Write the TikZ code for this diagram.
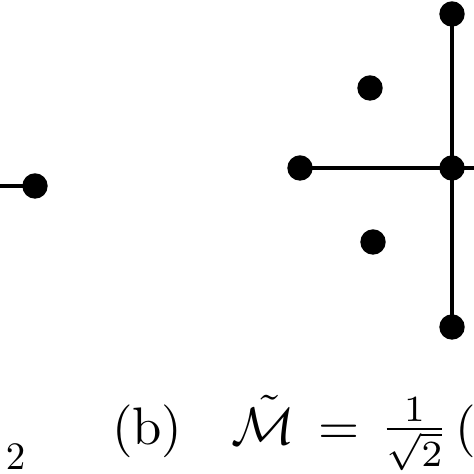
\documentclass[tikz,border=0pt]{standalone}
\usepackage{amsmath}
\tikzset{
  dot/.style={circle, fill=black, inner sep=0pt, minimum size=25.4bp},
  edge/.style={line width=3.5bp, black},
  captext/.style={inner sep=0pt, font=\fontsize{10}{12}\selectfont, scale=5.3, transform shape},
}
\begin{document}
\begin{tikzpicture}[x=1bp,y=1bp]
\useasboundingbox (0,0) rectangle (474,474);
\clip (0,0) rectangle (474,474);
% free ends
\coordinate (lend) at (0,288);
\coordinate (rend) at (474,306);
% dots
\node[dot] (a) at (35,288) {};
\node[dot] (b) at (370,386) {};
\node[dot] (c) at (300,306) {};
\node[dot] (d) at (452,306) {};
\node[dot] (e) at (452,460) {};
\node[dot] (f) at (373,232) {};
\node[dot] (g) at (452,147) {};
% connectors
\draw[edge] (lend) -- (a.center);
\draw[edge] (c.center) -- (d.center) -- (rend);
\draw[edge] (e.center) -- (g.center);
% caption
\node[inner sep=0pt, font=\fontsize{10}{12}\selectfont, scale=3.9, transform shape, anchor=base west] (two) at (5,5) {$2$};
\node[captext, anchor=base west] (lab) at (111,30) {(b)};
\node[captext, anchor=base west] (mt) at (230,30) {$\tilde{\mathcal{M}}$};
\node[captext, anchor=base] (eq) at (339,30) {$=$};
\node[captext, anchor=base] (fr) at (414.5,32) {$\frac{1}{\sqrt{2}}$};
\node[captext, anchor=base west] (par) at (454,30) {$($};
\end{tikzpicture}
\end{document}
